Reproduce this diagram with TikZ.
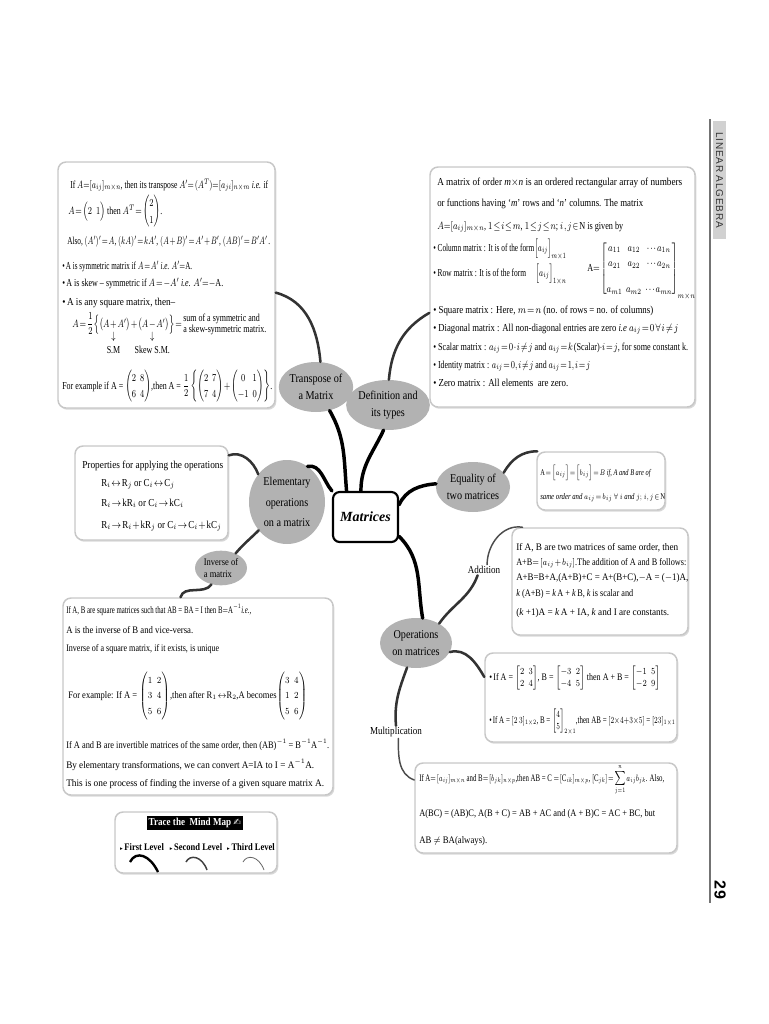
\documentclass[tikz,border=0pt]{standalone}
\usepackage{mathtools}
\usepackage{graphicx}
\usepackage{fontspec}
\setmainfont{Liberation Serif}
\newfontfamily\narrowfont[FakeStretch=0.85]{Liberation Serif}
\newfontfamily\sidefont[LetterSpace=8]{Liberation Sans}
\newfontfamily\dingfont{DejaVu Sans}
\usetikzlibrary{arrows.meta,shapes.geometric,fit,shadows}

\setlength{\arraycolsep}{2pt}
\thinmuskip=2mu
\medmuskip=1.5mu plus 1mu
\thickmuskip=2mu plus 2mu
\scriptspace=0.2pt

% 演算子の下の矢印と注記
\newcommand{\opnote}[2]{\underset{\mathclap{\begin{tabular}{@{}c@{}}$\downarrow$\\[1pt]#2\end{tabular}}}{#1}}

% 一行を決まった幅（px）に詰める
\newsavebox{\lnbox}
\newenvironment{fitw}[1]
  {\def\fitwidth{#1}\begin{lrbox}{\lnbox}}
  {\end{lrbox}\resizebox{\dimexpr\fitwidth pt*3/4\relax}{\height}{\usebox{\lnbox}}}

\begin{document}
\begin{tikzpicture}[x=0.75pt, y=-0.75pt,
    box/.style={draw=black!22, line width=1.1pt, rounded corners=6pt, fill=white, inner sep=0pt,
                drop shadow={shadow xshift=1pt, shadow yshift=-1.3pt, fill=black!30}},
    topic/.style={ellipse, fill=black!30, inner sep=0pt, align=center,
                  minimum width=54pt, minimum height=37.5pt, font=\narrowfont\fontsize{9}{13}\selectfont},
    txt/.style={anchor=base west, inner sep=0pt, font=\fontsize{8}{10}\selectfont,
                execute at begin node={\begin{fitw}{#1}}, execute at end node={\end{fitw}}},
    txts/.style={txt=#1, font=\fontsize{7.5}{9}\selectfont},
    txtxs/.style={txt=#1, font=\fontsize{6.5}{8}\selectfont},
    lbl/.style={inner sep=1pt, font=\narrowfont\fontsize{8}{10}\selectfont},
    lev1/.style={line width=2.6pt, line cap=round},
    lev2/.style={line width=1.9pt, black!80, line cap=round},
    lev3/.style={line width=1.1pt, black!70, line cap=round}]

    \useasboundingbox (0,0) rectangle (768,1024);

    % 右端の帯
    \draw[black!55, line width=0.9pt] (710,119) -- (710,903);
    \node[rotate=-90, fill=black!18, inner sep=0pt, minimum width=88.5pt, minimum height=9.75pt,
          font=\sidefont\fontsize{7.5}{8}\selectfont, text=black!80] (tab) at (719.5,180) {LINEAR ALGEBRA};
    \node[rotate=-90, inner sep=0pt, font=\sidefont\bfseries\fontsize{12}{12}\selectfont] (pg) at (720,890) {29};

    % 中央
    \node[draw, line width=1.6pt, rounded corners=5pt, minimum width=48.75pt, minimum height=37.5pt,
          font=\fontsize{10.5}{12}\selectfont\bfseries\itshape] (mat) at (365.5,517) {Matrices};

    % 枝のノード
    \node[topic] (tra) at (316,387) {Transpose of\\a Matrix};
    \node[topic] (dfn) at (388,405) {Definition and\\its types};
    \node[topic] (equ) at (473,487) {Equality of\\two matrices};
    \node[topic] (ops) at (416,643) {Operations\\on matrices};
    \node[topic, minimum width=57pt, minimum height=63pt, font=\narrowfont\fontsize{9}{15.5}\selectfont] (elem) at (287,502) {Elementary\\operations\\on a matrix};
    \node[topic, minimum width=39pt, minimum height=26pt, align=left, font=\narrowfont\fontsize{7.5}{9}\selectfont] (inv) at (221,568) {Inverse of\\a matrix};
    \node[lbl] (add) at (484,570) {Addition};
    \node[lbl] (mul) at (396,732) {Multiplication};

    % 転置
    \node[box, fit={(58,162) (275,408)}] (traBox) {};
    \node[txt=198] (tr1) at (70,188) {If $A{=}[a_{ij}]_{m\times n}$, then its transpose $A'{=}\,(A^{T}){=}[a_{ji}]_{n\times m}$ \textit{i.e.} if};
    \node[txt=94] (tr2) at (68,214) {\renewcommand{\arraystretch}{1.25}$A=\begin{pmatrix}2&1\end{pmatrix}$ then $A^{T}=\begin{pmatrix}2\\1\end{pmatrix}$.};
    \node[txt=203] (tr3) at (67,244) {Also, $(A')'=A$, $(kA)'=kA'$, $(A+B)'=A'+B'$, $(AB)'=B'A'$\,.};
    \node[txt=130] (tr4) at (62,269) {\textbullet\,A is symmetric matrix if $A=A'$ \textit{i.e.} $A'{=}$A.};
    \node[txt=161] (tr5) at (62,286) {\textbullet\,A is skew -- symmetric if $A=-A'$ \textit{i.e.} $A'{=}{-}$A.};
    \node[txt=113] (tr6) at (62,305) {\textbullet\,A is any square matrix, then--};
    \node[txt=194] (tr7) at (72,327) {$A=\dfrac{1}{2}\Bigl\{\bigl(A\opnote{+}{S.M}A'\bigr)+\bigl(A\opnote{-}{Skew S.M.}A'\bigr)\Bigr\}=$\,\begin{tabular}{@{}l@{}}sum of a symmetric and\\[-2pt]a skew-symmetric matrix.\end{tabular}};
    \node[txt=210] (tr8) at (62,389) {\renewcommand{\arraystretch}{1.2}For example if A = $\begin{pmatrix}2&8\\6&4\end{pmatrix}$,then\ A = $\dfrac{1}{2}\left\{\begin{pmatrix}2&7\\7&4\end{pmatrix}+\begin{pmatrix}0&1\\-1&0\end{pmatrix}\right\}$.};

    % 定義と種類
    \node[box, fit={(430,167) (695,407)}] (dfnBox) {};
    \node[txt=245] (df1) at (437,185) {A matrix of order \textit{m}$\times$\textit{n} is an ordered rectangular array of numbers};
    \node[txt=206] (df2) at (437,206) {or functions having `\textit{m}' rows and `\textit{n}' columns. The matrix};
    \node[txt=186] (df3) at (437,229) {$A{=}[a_{ij}]_{m\times n}$, $1\le i\le m$, $1\le j\le n$; $i\,,j\in\mathrm{N}$ is given by};
    \node[txt=133] (df4) at (433,251) {\textbullet\ Column matrix : It is of the form$\Bigl[a_{ij}\Bigr]_{m\times 1}$};
    \node[txt=133] (df5) at (433,276) {\textbullet\ Row matrix : It is of the form\quad\ $\Bigl[a_{ij}\Bigr]_{1\times n}$};
    \node[txt=108, anchor=west] (dfA) at (587,270) {\renewcommand{\arraystretch}{1.15}$\mathrm{A}{=}\begin{bmatrix}a_{11}&a_{12}&\cdots a_{1n}\\a_{21}&a_{22}&\cdots a_{2n}\\[8pt]a_{m1}&a_{m2}&\cdots a_{mn}\end{bmatrix}_{m\times n}$};
    \node[txt=220] (df6) at (433,313) {\textbullet\ Square matrix : Here, $m=n$ (no. of rows = no. of columns)};
    \node[txt=245] (df7) at (433,331) {\textbullet\ Diagonal matrix : All non-diagonal entries are zero \textit{i.e} $a_{ij}=0\,\forall\,i\neq j$};
    \node[txt=255] (df8) at (433,350) {\textbullet\ Scalar matrix : $a_{ij}=0\cdot i\neq j$ and $a_{ij}=k\,$(Scalar)$\cdot i=j$, for some constant k.};
    \node[txt=157] (df9) at (433,368) {\textbullet\ Identity matrix : $a_{ij}=0, i\neq j$ and $a_{ij}=1, i=j$};
    \node[txt=135] (df10) at (433,386) {\textbullet\ Zero matrix : All elements\ \ are zero.};

    % 基本変形
    \node[box, fit={(75,446) (228,540)}] (elemBox) {};
    \node[txt=141] (el1) at (82,468) {Properties for applying the operations};
    \node[txt=73] (el2) at (101,486) {$\mathrm{R}_i\leftrightarrow\mathrm{R}_j$ or $\mathrm{C}_i\leftrightarrow\mathrm{C}_j$};
    \node[txt=82] (el3) at (101,506) {$\mathrm{R}_i\to\mathrm{kR}_i$ or $\mathrm{C}_i\to\mathrm{kC}_i$};
    \node[txt=120] (el4) at (101,528) {$\mathrm{R}_i\to\mathrm{R}_i+\mathrm{kR}_j$ or $\mathrm{C}_i\to\mathrm{C}_i+\mathrm{kC}_j$};

    % 相等
    \node[box, fit={(537,452) (665,510)}] (equBox) {};
    \node[txtxs=111] (eq1) at (540,475) {$\mathrm{A}=\Bigl[a_{ij}\Bigr]=\Bigl[b_{ij}\Bigr]=B$ \textit{if, A and B are of}};
    \node[txtxs=125] (eq2) at (540,499) {\textit{same order and} $a_{ij}=b_{ij}\ \forall\ i$ \textit{and} $j;\,i,j\in\mathrm{N}$};

    % 加法
    \node[box, fit={(512,528) (688,635)}] (addBox) {};
    \node[txts=162] (ad1) at (516,550) {If A, B are two matrices of same order, then};
    \node[txts=170] (ad2) at (516,565) {A+B$=[a_{ij}+b_{ij}]$.The addition of A and B follows:};
    \node[txts=172] (ad3) at (516,580) {A+B=B+A,(A+B)+C = A+(B+C),$-$A = ($-$1)A,};
    \node[txts=117] (ad4) at (516,596) {\textit{k} (A+B) = \textit{k}\,A + \textit{k}\,B, \textit{k} is scalar and};
    \node[txts=153] (ad5) at (516,615) {(\textit{k} +1)A = \textit{k}\,A + IA, \textit{k} and I are constants.};

    % 演算の例
    \node[box, fit={(485,653) (677,742)}] (opsBox) {};
    \node[txts=171] (op1) at (489,680) {\textbullet\,If A = $\begin{bmatrix}2&3\\2&4\end{bmatrix}$, B = $\begin{bmatrix}-3&2\\-4&5\end{bmatrix}$ then\ A + B = $\begin{bmatrix}-1&5\\-2&9\end{bmatrix}$};
    \node[txts=186] (op2) at (489,723) {\textbullet\,If A = $[2\ 3]_{1\times2}$, B = $\begin{bmatrix}4\\5\end{bmatrix}_{2\times1}$,then AB = $[2{\times}4{+}3{\times}5]$ = $[23]_{1\times1}$};

    % 乗法
    \node[box, fit={(415,763) (677,853)}] (mulBox) {};
    \node[txts=245] (mu1) at (419,781) {If A$=[a_{ij}]_{m\times n}$ and B$=[b_{jk}]_{n\times p}$,then AB = C $=[\mathrm{C}_{ik}]_{m\times p}$, $[\mathrm{C}_{jk}]=\displaystyle\sum_{j=1}^{n}a_{ij}b_{jk}$. Also,};
    \node[txts=236] (mu2) at (419,816) {A(BC) = (AB)C, A(B + C) = AB + AC and (A + B)C = AC + BC, but};
    \node[txts=68] (mu3) at (419,843) {AB $\neq$ BA(always).};

    % 逆行列
    \node[box, fit={(63,598) (333,795)}] (invBox) {};
    \node[txts=185] (iv1) at (66,613) {If A, B are square matrices such that AB = BA = I then B$=$A$^{-1}$\textit{i.e.,}};
    \node[txts=127] (iv2) at (66,633) {A is the inverse of B and vice-versa.};
    \node[txts=153] (iv3) at (66,651) {Inverse of a square matrix, if it exists, is unique};
    \node[txts=239] (iv4) at (68,698) {\renewcommand{\arraystretch}{1.3}For example: If A = $\begin{pmatrix}1&2\\3&4\\5&6\end{pmatrix}$,then after R$_1\leftrightarrow$R$_2$,A becomes$\begin{pmatrix}3&4\\1&2\\5&6\end{pmatrix}$};
    \node[txts=263] (iv5) at (66,748) {If A and B are invertible matrices of the same order, then (AB)$^{-1}$ = B$^{-1}$A$^{-1}$.};
    \node[txts=248] (iv6) at (66,768) {By elementary transformations, we can convert A=IA to I = A$^{-1}$A.};
    \node[txts=258] (iv7) at (66,786) {This is one process of finding the inverse of a given square matrix A.};

    % 凡例
    \node[box, fit={(115,812) (277,873)}] (legBox) {};
    \node[fill=black, text=white, inner sep=1.5pt, font=\narrowfont\fontsize{8}{9}\selectfont\bfseries] (ttl) at (195,823) {Trace the\ \ Mind Map {\dingfont\fontsize{7}{8}\selectfont ✍}};
    \node[lbl, font=\narrowfont\fontsize{7.5}{9}\selectfont\bfseries] (lv1) at (142,847) {{\dingfont\fontsize{4}{4}\selectfont ▸}\,First Level};
    \node[lbl, font=\narrowfont\fontsize{7.5}{9}\selectfont\bfseries] (lv2) at (196,847) {{\dingfont\fontsize{4}{4}\selectfont ▸}\,Second Level};
    \node[lbl, font=\narrowfont\fontsize{7.5}{9}\selectfont\bfseries] (lv3) at (251,847) {{\dingfont\fontsize{4}{4}\selectfont ▸}\,Third Level};
    \draw[line width=1.8pt] (130,862) .. controls (136,850) and (150,855) .. (158,872);
    \draw[line width=1.1pt, black!75] (186,862) .. controls (190,854) and (202,856) .. (207,870);
    \draw[line width=0.6pt, black!60] (243,862) .. controls (247,854) and (259,856) .. (264,870);

    % 第一レベルの枝
    \draw[lev1] (elem.60) to[out=10, in=130] (mat.north west);
    \draw[lev1] (tra.-60) to[out=-60, in=95] (mat.126);
    \draw[lev1] (dfn.-100) to[out=-115, in=90] (mat.100);
    \draw[lev1] (mat.20) to[out=65, in=185] (equ.175);
    \draw[lev1] (mat.-30) to[out=-45, in=100] (ops.75);

    % 第二レベルの枝
    \draw[lev2] (tra.80) to[out=95, in=-15] (traBox.-4);
    \draw[lev2] (dfn.88) to[out=85, in=210] (dfnBox.191);
    \draw[lev2] (elem.136) to[out=110, in=20] (elemBox.26);
    \draw[lev2] (elem.-135) to[out=-135, in=50] (inv.45);
    \draw[lev2] (inv.-120) to[out=-125, in=75] (invBox.100);
    \draw[lev2] (equ.25) to[out=60, in=180] (equBox.155);
    \draw[lev2] (ops.40) to[out=55, in=-110] (add.-140);
    \draw[lev2] (ops.-15) to[out=15, in=120] (opsBox.168);
    \draw[lev2] (ops.-110) to[out=-110, in=95] (mul.north);

    % 第三レベルの枝
    \draw[lev3] (add.60) to[out=90, in=170] (addBox.145);
    \draw[lev3] (mul.-70) to[out=-90, in=160] (mulBox.168);

\end{tikzpicture}
\end{document}
